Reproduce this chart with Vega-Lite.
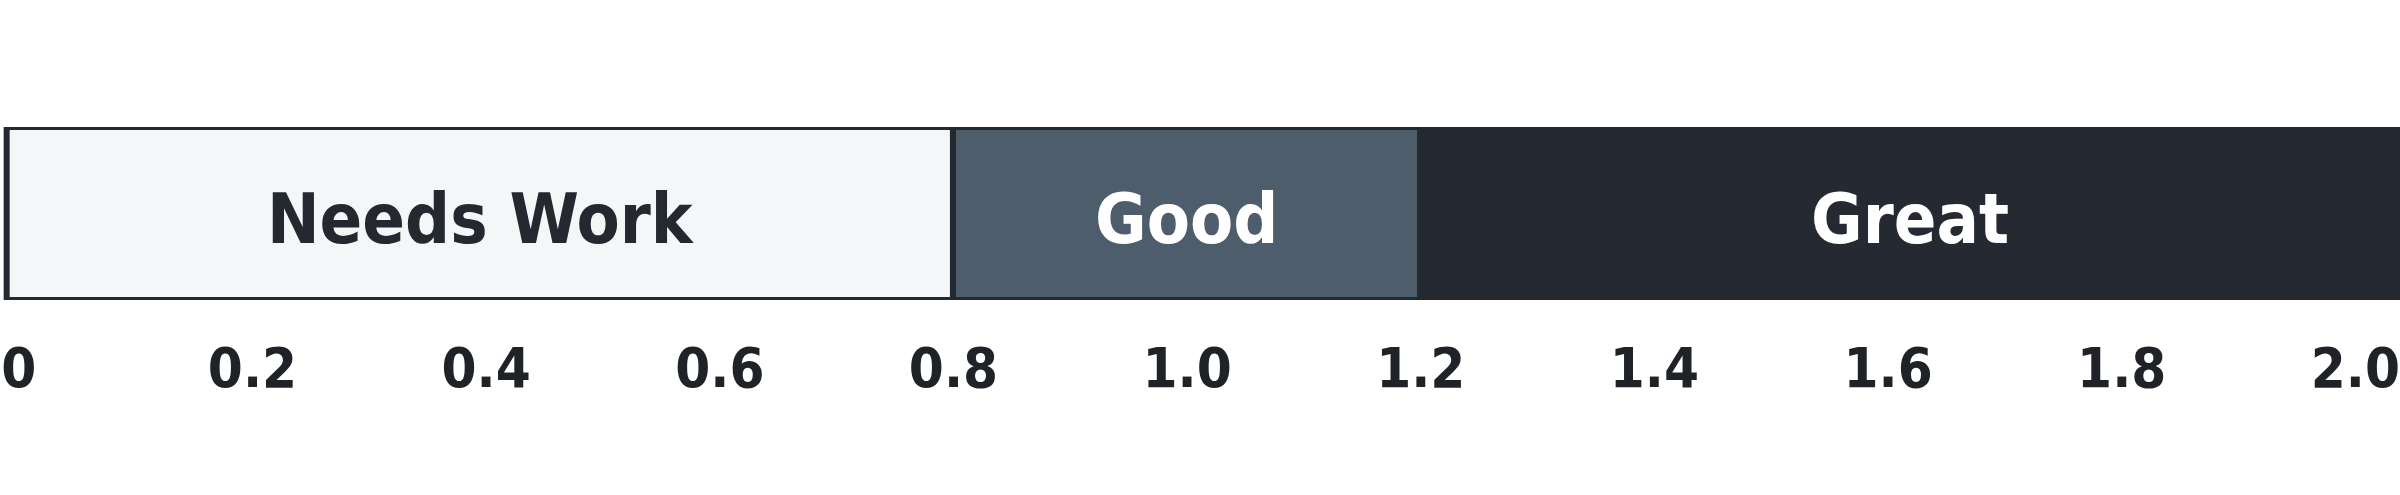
{
  "$schema": "https://vega.github.io/schema/vega-lite/v6.json",
  "width": 2400,
  "height": 173,
  "autosize": "none",
  "padding": {"left": 0, "right": 0, "top": 127, "bottom": 195},
  "background": "#ffffff",
  "config": {
    "view": {"stroke": null},
    "font": "DejaVu Sans Condensed, sans-serif"
  },
  "data": {
    "values": [
      {"band": "Needs Work", "start": -0.01, "end": 0.8},
      {"band": "Good", "start": 0.8, "end": 1.2},
      {"band": "Great", "start": 1.2, "end": 2.1}
    ]
  },
  "transform": [
    {"calculate": "(datum.start + min(datum.end, 2.0386)) / 2", "as": "mid"}
  ],
  "layer": [
    {
      "mark": {"type": "rect", "stroke": "#24292f", "strokeWidth": 6, "clip": true},
      "encoding": {
        "x": {
          "field": "start",
          "type": "quantitative",
          "scale": {"domain": [-0.0157, 2.0386], "nice": false, "zero": false},
          "axis": {
            "values": [0, 0.2, 0.4, 0.6, 0.8, 1.0, 1.2, 1.4, 1.6, 1.8, 2.0],
            "labelExpr": "datum.value == 0 ? '0' : format(datum.value, '.1f')",
            "domain": false,
            "ticks": false,
            "grid": false,
            "labelFlush": false,
            "labelFont": "DejaVu Sans Condensed, sans-serif",
            "labelFontSize": 56,
            "labelFontWeight": "bold",
            "labelColor": "#1f2328",
            "labelPadding": 42,
            "title": null
          }
        },
        "x2": {"field": "end"},
        "fill": {
          "field": "band",
          "type": "nominal",
          "scale": {
            "domain": ["Needs Work", "Good", "Great"],
            "range": ["#f5f6f8", "#4e5d6c", "#252a32"]
          },
          "legend": null
        }
      }
    },
    {
      "mark": {
        "type": "text",
        "font": "DejaVu Sans Condensed, sans-serif",
        "fontSize": 70,
        "fontWeight": "bold",
        "baseline": "middle",
        "align": "center",
        "dy": 8
      },
      "encoding": {
        "x": {"field": "mid", "type": "quantitative"},
        "text": {"field": "band", "type": "nominal"},
        "color": {
          "condition": {"test": "datum.band == 'Needs Work'", "value": "#24292f"},
          "value": "#ffffff"
        }
      }
    }
  ]
}
